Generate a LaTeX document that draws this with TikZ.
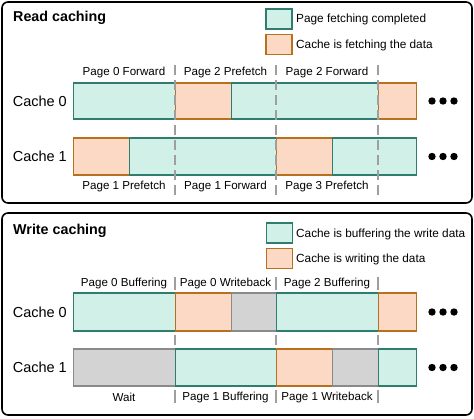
\documentclass[tikz,border=0pt]{standalone}
\usepackage{fontspec}
\setmainfont{Liberation Sans}
\usepackage{xcolor}
\usetikzlibrary{positioning}
\definecolor{tealfill}{RGB}{208, 240, 232}
\definecolor{tealline}{RGB}{46, 125, 110}
\definecolor{orangefill}{RGB}{252, 217, 197}
\definecolor{orangeline}{RGB}{184, 112, 30}
\definecolor{grayfill}{RGB}{211, 211, 211}
\definecolor{grayline}{RGB}{138, 138, 138}

\begin{document}
\begin{tikzpicture}[x=1pt, y=-1pt,
  panel/.style={draw=black, line width=1.6pt, rounded corners=6pt, fill=white, inner sep=0pt},
  seg/.style={anchor=west, minimum height=36pt, inner sep=0pt, line width=1.4pt},
  doneseg/.style={seg, draw=tealline, fill=tealfill},
  fetchseg/.style={seg, draw=orangeline, fill=orangefill},
  waitseg/.style={seg, draw=grayline, fill=grayfill},
  keybox/.style={minimum width=26pt, minimum height=20pt, inner sep=0pt, line width=1.6pt},
  keytext/.style={anchor=west, inner sep=0pt, font=\fontsize{11.8}{13}\selectfont},
  phase/.style={inner sep=0pt, font=\fontsize{11.6}{13}\selectfont},
  rowlabel/.style={anchor=east, inner sep=0pt, font=\fontsize{14.5}{16}\selectfont},
  paneltitle/.style={anchor=west, inner sep=0pt, font=\bfseries\fontsize{14.3}{16}\selectfont},
  sepline/.style={draw=gray!75, line width=1.8pt}
]
\useasboundingbox (0,0) rectangle (474,418);

% Read caching panel
\node[panel, minimum width=470pt, minimum height=201pt] (readPanel) at (237,102.5) {};
\node[paneltitle] (readTitle) at (13,18) {Read caching};

\node[keybox, draw=tealline, fill=tealfill] (readKeyDone) at (279,19) {};
\node[keybox, draw=orangeline, fill=orangefill] (readKeyBusy) at (279,44.5) {};
\node[keytext] at (296,19.5) {Page fetching completed};
\node[keytext] at (296,45) {Cache is fetching the data};

\node[phase] (rp0) at (124,72) {Page 0 Forward};
\node[phase] (rp1) at (225.5,72) {Page 2 Prefetch};
\node[phase] (rp2) at (327,72) {Page 2 Forward};

\node[rowlabel] (rc0) at (67,101) {Cache 0};
\node[doneseg, minimum width=102pt] (r0a) at (73,101) {};
\node[fetchseg, minimum width=56pt] (r0b) at (175,101) {};
\node[doneseg, minimum width=147pt] (r0c) at (231,101) {};
\node[fetchseg, minimum width=38pt] (r0d) at (378,101) {};

\node[rowlabel] (rc1) at (67,156.5) {Cache 1};
\node[fetchseg, minimum width=56pt, minimum height=37pt] (r1a) at (73,156.5) {};
\node[doneseg, minimum width=147pt, minimum height=37pt] (r1b) at (129,156.5) {};
\node[fetchseg, minimum width=56pt, minimum height=37pt] (r1c) at (276,156.5) {};
\node[doneseg, minimum width=84pt, minimum height=37pt] (r1d) at (332,156.5) {};

\node[phase] (rq0) at (124,186) {Page 1 Prefetch};
\node[phase] (rq1) at (225.5,186) {Page 1 Forward};
\node[phase] (rq2) at (327,186) {Page 3 Prefetch};

\foreach \x in {175,276,378}
  \draw[sepline, dash pattern=on 10pt off 5pt] (\x,65) -- (\x,195);

% Write caching panel
\node[panel, minimum width=470pt, minimum height=202pt] (writePanel) at (237,314) {};
\node[paneltitle] (writeTitle) at (13,231) {Write caching};

\node[keybox, draw=tealline, fill=tealfill] (writeKeyBuf) at (279.5,233) {};
\node[keybox, draw=orangeline, fill=orangefill] (writeKeyBusy) at (279.5,258.5) {};
\node[keytext] at (296,234) {Cache is buffering the write data};
\node[keytext] at (296,259.5) {Cache is writing the data};

\node[phase] (wp0) at (124,283) {Page 0 Buffering};
\node[phase] (wp1) at (225.5,283) {Page 0 Writeback};
\node[phase] (wp2) at (327,283) {Page 2 Buffering};

\node[rowlabel] (wc0) at (67,312) {Cache 0};
\node[doneseg, minimum width=102pt, minimum height=38pt] (w0a) at (73,312) {};
\node[fetchseg, minimum width=56pt, minimum height=38pt] (w0b) at (175,312) {};
\node[waitseg, minimum width=45pt, minimum height=38pt] (w0c) at (231,312) {};
\node[doneseg, minimum width=102pt, minimum height=38pt] (w0d) at (276,312) {};
\node[fetchseg, minimum width=38pt, minimum height=38pt] (w0e) at (378,312) {};

\node[rowlabel] (wc1) at (67,367.5) {Cache 1};
\node[waitseg, minimum width=102pt, minimum height=37pt] (w1a) at (73,367.5) {};
\node[doneseg, minimum width=101pt, minimum height=37pt] (w1b) at (175,367.5) {};
\node[fetchseg, minimum width=56pt, minimum height=37pt] (w1c) at (276,367.5) {};
\node[waitseg, minimum width=46pt, minimum height=37pt] (w1d) at (332,367.5) {};
\node[doneseg, minimum width=38pt, minimum height=37pt] (w1e) at (378,367.5) {};

\node[phase] (wq0) at (124,397) {Wait};
\node[phase] (wq1) at (225.5,397) {Page 1 Buffering};
\node[phase] (wq2) at (327,397) {Page 1 Writeback};

\foreach \x in {175,276,378} {
  \draw[sepline] (\x,277) -- (\x,290);
  \draw[sepline] (\x,335) -- (\x,345);
  \draw[sepline] (\x,390) -- (\x,403);
}

% continuation dots
\foreach \y in {101,156.5,312,367.5}
  \foreach \x in {432,443,454}
    \fill (\x,\y) circle (3.7pt);

\end{tikzpicture}
\end{document}
